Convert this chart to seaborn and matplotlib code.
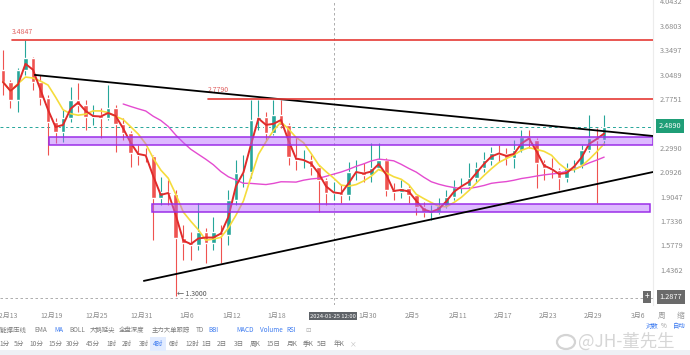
import numpy as np
import pandas as pd
import matplotlib
matplotlib.use('Agg')
import matplotlib.pyplot as plt
import matplotlib.dates as mdates
from matplotlib.patches import Rectangle, Ellipse
from matplotlib.ticker import NullLocator
import seaborn as sns

sns.set_style('white')
plt.rcParams['font.family'] = ['Noto Sans CJK SC', 'DejaVu Sans']

# daily candles, first day 2023-12-12
start_day = '2023-12-12'
first_open = 3.104
close_px = [2.963, 2.764, 3.104, 3.251, 2.963, 2.786, 2.539, 2.443, 2.579, 2.764,
            2.711, 2.589, 2.609, 2.579, 2.680, 2.520, 2.434, 2.254, 2.236, 2.228,
            1.895, 1.939, 1.924, 1.623, 1.592, 1.580, 1.661, 1.592, 1.661, 1.642,
            1.880, 2.086, 2.094, 2.559, 2.589, 2.434, 2.609, 2.510, 2.219, 2.193,
            2.193, 2.135, 2.031, 1.932, 1.939, 1.917, 2.094, 2.094, 2.070, 2.126,
            2.193, 1.954, 1.939, 1.969, 1.917, 1.830, 1.795, 1.795, 1.837, 1.902,
            1.977, 1.985, 2.046, 2.126, 2.193, 2.254, 2.245, 2.211, 2.280, 2.396,
            2.369, 2.168, 2.126, 2.110, 2.046, 2.126, 2.151, 2.280, 2.387, 2.369,
            2.489]
high_px = [3.353, 2.986, 3.128, 3.4847, 3.260, 3.045, 2.818, 2.579, 2.660, 2.906,
           2.952, 2.764, 2.711, 2.680, 2.929, 2.711, 2.579, 2.450, 2.324, 2.297,
           2.236, 2.054, 2.031, 1.950, 1.707, 1.661, 1.858, 1.687, 1.761, 1.707,
           1.954, 2.193, 2.236, 2.764, 2.764, 2.640, 2.764, 2.764, 2.530, 2.396,
           2.280, 2.236, 2.151, 2.046, 2.015, 1.992, 2.176, 2.193, 2.168, 2.342,
           2.342, 2.211, 2.008, 2.031, 1.992, 1.917, 1.866, 1.844, 1.895, 1.954,
           2.031, 2.046, 2.168, 2.176, 2.262, 2.306, 2.324, 2.297, 2.369, 2.462,
           2.462, 2.387, 2.193, 2.211, 2.126, 2.168, 2.193, 2.324, 2.609, 2.481,
           2.609]
low_px = [2.818, 2.680, 2.640, 3.045, 2.873, 2.711, 2.236, 2.342, 2.351, 2.539,
          2.640, 2.462, 2.510, 2.387, 2.559, 2.262, 2.369, 2.135, 2.151, 2.176,
          1.611, 1.844, 1.844, 1.300, 1.492, 1.492, 1.550, 1.475, 1.550, 1.475,
          1.580, 1.844, 1.977, 2.050, 2.462, 2.369, 2.415, 2.481, 2.151, 2.110,
          2.126, 2.070, 1.795, 1.844, 1.880, 1.858, 1.880, 2.031, 2.015, 2.015,
          2.110, 1.909, 1.880, 1.895, 1.858, 1.774, 1.761, 1.740, 1.781, 1.820,
          1.880, 1.932, 1.954, 2.015, 2.094, 2.151, 2.176, 2.151, 2.126, 2.262,
          2.297, 1.969, 2.031, 2.046, 1.954, 2.015, 2.094, 2.126, 2.262, 1.858,
          2.324]

# price scale labels (the ones hidden by the price boxes are left out)
price_ticks = [4.0432, 3.6803, 3.3497, 3.0489, 2.7751, 2.2990, 2.0926,
               1.9047, 1.7336, 1.5779, 1.4362]
date_ticks = ['2023-12-13', '2023-12-19', '2023-12-25', '2023-12-31', '2024-01-06',
              '2024-01-12', '2024-01-18', '2024-01-30', '2024-02-05', '2024-02-11',
              '2024-02-17', '2024-02-23', '2024-02-29', '2024-03-06']
date_labels = ['12月13', '12月19', '12月25', '12月31', '1月6', '1月12', '1月18',
               '1月30', '2月5', '2月11', '2月17', '2月23', '2月29', '3月6']

top_high = 3.4847
second_high = 2.7790
low_mark = 1.3000
last_price = 2.4890
cross_price = 1.2877
cross_time = '2024-01-25 12:00'
upper_zone = [2.324, 2.396]
lower_zone = [1.795, 1.851]
upper_trend = [('2023-12-16 18:00', 3.045), ('2024-03-08 00:00', 2.406)]
lower_trend = [('2023-12-31 06:00', 1.376), ('2024-03-08 00:00', 2.094)]

df = pd.DataFrame({'close': close_px, 'high': high_px, 'low': low_px})
df['open'] = [first_open] + close_px[:-1]
df['t'] = pd.date_range(start_day, periods=len(df), freq='D') + pd.Timedelta(hours=12)
df['x'] = mdates.date2num(df['t'])
df['ma_fast'] = df['close'].rolling(2, min_periods=1).mean()
df['ma_mid'] = df['close'].rolling(5, min_periods=1).mean()
df['ma_slow'] = df['close'].rolling(20, min_periods=17).mean()


def d2n(s):
    return mdates.date2num(pd.Timestamp(s))


def fx(px):
    return px / 690


def fy(py):
    return 1 - py / 355


fig = plt.figure(figsize=(6.9, 3.55), dpi=100)
ax = fig.add_axes([0, fy(305), 653 / 690, 305 / 355])
ax.set_yscale('log')

x_left = d2n('2023-12-12 02:40')
x_right = d2n('2024-03-08 00:00')

# candles
up = df['close'] >= df['open']
colors = np.where(up, '#26a69a', '#ef5350')
ax.vlines(df['x'], df['low'], df['high'], colors=colors, lw=0.8, zorder=2)
body_lo = np.minimum(df['open'], df['close'])
body_h = np.maximum(np.abs(df['close'] - df['open']), 0.004)
ax.bar(df['x'], body_h, bottom=body_lo, width=0.62, color=colors, zorder=2)

# moving averages
sns.lineplot(x=df['x'], y=df['ma_slow'], ax=ax, color='#e44bd0', lw=1.0, zorder=3)
sns.lineplot(x=df['x'], y=df['ma_mid'], ax=ax, color='#f5dc3c', lw=1.2, zorder=3)
sns.lineplot(x=df['x'], y=df['ma_fast'], ax=ax, color='#e02b2b', lw=1.4, zorder=4)

# zones
for zone, x0, x1 in [(upper_zone, d2n('2023-12-18 15:00'), x_right),
                     (lower_zone, d2n('2024-01-01 08:00'), d2n('2024-03-07 16:00'))]:
    ax.add_patch(Rectangle((x0, zone[0]), x1 - x0, zone[1] - zone[0],
                           facecolor='#b466ff', alpha=0.45, edgecolor='none', zorder=5))
    ax.add_patch(Rectangle((x0, zone[0]), x1 - x0, zone[1] - zone[0],
                           facecolor='none', edgecolor='#9b2fe8', lw=1.1, zorder=5))

# trend lines
for tl in [upper_trend, lower_trend]:
    ax.plot([d2n(tl[0][0]), d2n(tl[1][0])], [tl[0][1], tl[1][1]], color='black', lw=1.3, zorder=6)

# horizontal levels
ax.plot([d2n('2023-12-13 16:00'), x_right], [top_high, top_high], color='#e53935', lw=1.2, zorder=6)
ax.plot([d2n('2024-01-08 19:00'), x_right], [second_high, second_high], color='#e53935', lw=1.2, zorder=6)
ax.annotate(f'{top_high:.4f}', xy=(d2n('2023-12-13 16:00'), top_high), xytext=(0, 3),
            textcoords='offset points', fontsize=5, color='#e06060', va='bottom', ha='left')
ax.annotate(f'{second_high:.4f}', xy=(d2n('2024-01-08 19:00'), second_high), xytext=(0, 3),
            textcoords='offset points', fontsize=5, color='#e06060', va='bottom', ha='left')
ax.annotate(f'← {low_mark:.4f}', xy=(df['x'][23], low_mark), xytext=(1, 1.5),
            textcoords='offset points', fontsize=5, color='#555555', va='center', ha='left')

ax.axhline(last_price, color='#26a69a', lw=0.7, ls=(0, (3, 3)), zorder=1)
ax.axhline(cross_price, color='#a0a0a0', lw=0.6, ls=(0, (3, 3)), zorder=1)
ax.axvline(d2n(cross_time), color='#a0a0a0', lw=0.6, ls=(0, (3, 3)), zorder=1)

ax.set_xlim(x_left, x_right)
ax.set_ylim(1.2538, 4.0654)
ax.set_xlabel('')
ax.set_ylabel('')
ax.yaxis.tick_right()
ax.set_yticks(price_ticks)
ax.set_yticklabels([f'{v:.4f}' for v in price_ticks])
ax.yaxis.set_minor_locator(NullLocator())
ax.set_xticks([d2n(d) for d in date_ticks])
ax.set_xticklabels(date_labels)
ax.tick_params(axis='y', length=0, pad=5, labelsize=5.3, labelcolor='#8c8c8c')
ax.tick_params(axis='x', length=0, pad=5, labelsize=5.0, labelcolor='#8c8c8c')
for s in ['top', 'left', 'bottom']:
    ax.spines[s].set_visible(False)
ax.spines['right'].set_color('#ececec')
ax.spines['right'].set_linewidth(0.8)

# price boxes
fig.text(fx(670), fy(126), f'{last_price:.4f}', fontsize=5.3, color='white', ha='center', va='center',
         bbox=dict(boxstyle='square,pad=0.35', facecolor='#1f9e77', edgecolor='none'))
fig.text(fx(671), fy(297), f'{cross_price:.4f}', fontsize=5.3, color='white', ha='center', va='center',
         bbox=dict(boxstyle='square,pad=0.35', facecolor='#6a6a6a', edgecolor='none'))
fig.text(fx(647), fy(297), '+', fontsize=6, color='white', ha='center', va='center',
         bbox=dict(boxstyle='square,pad=0.2', facecolor='#6a6a6a', edgecolor='none'))
fig.text(fx(333), fy(316), '2024-01-25 12:00', fontsize=4.2, color='white', ha='center', va='center',
         bbox=dict(boxstyle='square,pad=0.25', facecolor='#5f6368', edgecolor='none'))
fig.text(fx(662), fy(316), '周', fontsize=5.5, color='#9a9a9a', ha='center', va='center')
fig.text(fx(680), fy(316), '缩', fontsize=5.5, color='#9a9a9a', ha='center', va='center')

# toolbar rows
blue = '#3d7bf0'
grey = '#7c7c7c'
row1 = [('智能撑压线', 11, grey), ('EMA', 41, grey), ('MA', 59, blue), ('BOLL', 77, grey),
        ('大鹅延尖', 102, grey), ('全盘深度', 132, grey), ('主力大单跟踪', 171, grey),
        ('TD', 200, grey), ('BBI', 213, blue), ('MACD', 245, blue), ('Volume', 271, blue),
        ('RSI', 291, blue), ('⊡', 308, '#aaaaaa')]
for txt, px, c in row1:
    fig.text(fx(px), fy(330), txt, fontsize=4.6, color=c, ha='center', va='center')
row2 = ['1分', '5分', '10分', '15分', '30分', '45分', '1时', '2时', '3时', '4时', '6时', '12时',
        '1日', '2日', '3日', '周K', '15日', '月K', '季K', '5日', '年K', '×']
row2_x = [5, 19, 36, 55, 73, 93, 112, 127, 144, 158, 174, 192, 207, 222, 239, 255, 273,
          292, 308, 322, 339, 353]
for txt, px in zip(row2, row2_x):
    c = blue if txt == '4时' else ('#bbbbbb' if txt == '×' else grey)
    kw = {}
    if txt == '4时':
        kw['bbox'] = dict(boxstyle='square,pad=0.45', facecolor='#e2ecff', edgecolor='none')
    fig.text(fx(px), fy(344), txt, fontsize=4.8, color=c, ha='center', va='center', **kw)

fig.text(fx(652), fy(326), '对数', fontsize=4.6, color=blue, ha='center', va='center')
fig.text(fx(664), fy(326), '%', fontsize=4.6, color='#999999', ha='center', va='center')
fig.text(fx(679), fy(326), '自动', fontsize=4.6, color=blue, ha='center', va='center')

# bottom strip and watermark
fig.patches.append(Rectangle((0, 0), 1, 5 / 355, transform=fig.transFigure,
                             facecolor='#eef0f5', edgecolor='none'))
fig.patches.append(Ellipse((fx(566), fy(342)), 18 / 690, 14 / 355, transform=fig.transFigure,
                           facecolor='none', edgecolor='#d4d4d4', lw=1.6))
fig.text(fx(578), fy(342), '@JH-董先生', fontsize=12.5, color='#d6d6d6', ha='left', va='center')

fig.savefig('out.png', dpi=100)
